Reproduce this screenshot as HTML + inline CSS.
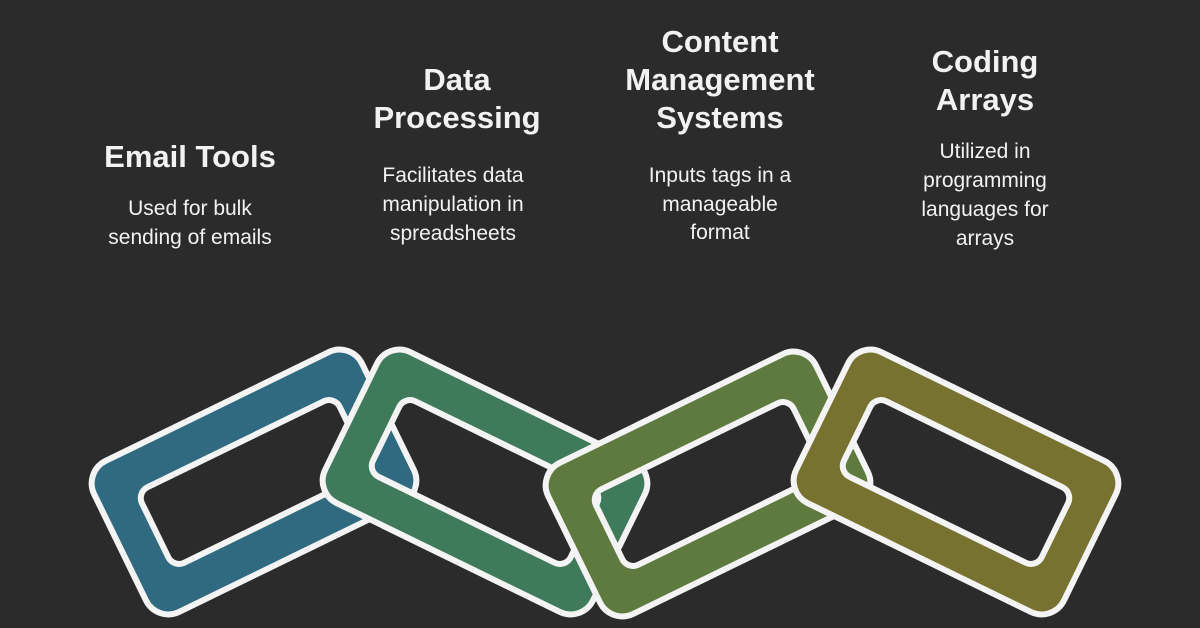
<!DOCTYPE html>
<html><head><style>
html,body{margin:0;padding:0;background:#2b2b2b;}
svg{display:block}
.h{font-family:"Liberation Sans",sans-serif;font-weight:bold;font-size:31px;fill:#f2f2f2;text-anchor:middle}
.d{font-family:"Liberation Sans",sans-serif;font-size:21px;fill:#f2f2f2;text-anchor:middle}
</style></head><body>
<svg width="1200" height="628" viewBox="0 0 1200 628">
<rect width="1200" height="628" fill="#2b2b2b"/>
<text class="h" x="190" y="167">Email Tools</text>
<text class="d" x="190" y="215">Used for bulk</text>
<text class="d" x="190" y="244">sending of emails</text>
<text class="h" x="457" y="90">Data</text>
<text class="h" x="457" y="128">Processing</text>
<text class="d" x="453" y="182">Facilitates data</text>
<text class="d" x="453" y="211">manipulation in</text>
<text class="d" x="453" y="240">spreadsheets</text>
<text class="h" x="720" y="52">Content</text>
<text class="h" x="720" y="90">Management</text>
<text class="h" x="720" y="128">Systems</text>
<text class="d" x="720" y="182">Inputs tags in a</text>
<text class="d" x="720" y="211">manageable</text>
<text class="d" x="720" y="239">format</text>
<text class="h" x="985" y="72">Coding</text>
<text class="h" x="985" y="110">Arrays</text>
<text class="d" x="985" y="158">Utilized in</text>
<text class="d" x="985" y="187">programming</text>
<text class="d" x="985" y="216">languages for</text>
<text class="d" x="985" y="245">arrays</text>
<defs>
<path id="lk" d="M-124,-84 h248 a25,25 0 0 1 25,25 v118 a25,25 0 0 1 -25,25 h-248 a25,25 0 0 1 -25,-25 v-118 a25,25 0 0 1 25,-25 Z M-98,-42 h196 a12,12 0 0 1 12,12 v60 a12,12 0 0 1 -12,12 h-196 a12,12 0 0 1 -12,-12 v-60 a12,12 0 0 1 12,-12 Z"/>
</defs>
<g fill-rule="evenodd" stroke="#f4f4f4" stroke-width="6">
<use href="#lk" fill="#2f6a80" transform="translate(254,482) rotate(-26)"/>
<use href="#lk" fill="#3f7a5a" transform="translate(485,482) rotate(26)"/>
<use href="#lk" fill="#5e7a3e" transform="translate(708,484) rotate(-26)"/>
<use href="#lk" fill="#77722f" transform="translate(956,482) rotate(26)"/>
</g>
</svg>
</body></html>
